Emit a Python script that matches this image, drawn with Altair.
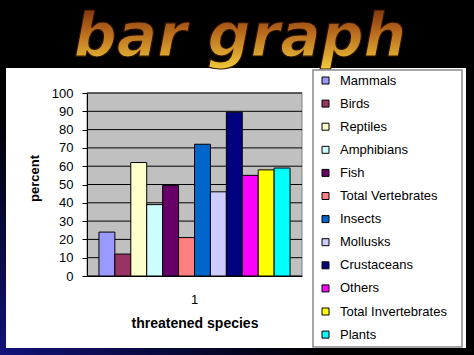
import altair as alt
import pandas as pd

species = ["Mammals", "Birds", "Reptiles", "Amphibians", "Fish", "Total Vertebrates",
           "Insects", "Mollusks", "Crustaceans", "Others", "Total Invertebrates", "Plants"]
values = [24, 12, 62, 39, 49.5, 21, 72, 46, 89.5, 55, 58, 59]
colors = ["#9999FF", "#993366", "#FFFFCC", "#CCFFFF", "#660066", "#FF8080",
          "#0066CC", "#CCCCFF", "#000080", "#FF00FF", "#FFFF00", "#00FFFF"]
group_label = ["1"] * len(species)
y_ticks = list(range(0, 101, 10))

FONT = "Liberation Sans"
W, H = 215, 183

df = pd.DataFrame({"group": group_label, "species": species, "value": values})
one = pd.DataFrame({"a": [0]})

y_axis = alt.Axis(values=y_ticks, grid=False, title="percent", zindex=2,
                  labelOverlap=False, tickCount=11,
                  domainColor="black", tickColor="black", tickSize=5,
                  labelFont=FONT, labelFontSize=13, labelColor="black",
                  labelPadding=9,
                  titleFont=FONT, titleFontSize=13, titleFontWeight="bold",
                  titleColor="black", titleAngle=270, titleX=-53, titleY=85,
                  titleAlign="center", titleBaseline="middle")
y_scale = alt.Scale(domain=[0, 100], nice=False)

bg = alt.Chart(one).mark_rect(
    fill=alt.Gradient(gradient="linear",
                      stops=[alt.GradientStop(color="#12127a", offset=0),
                             alt.GradientStop(color="#000000", offset=0.35),
                             alt.GradientStop(color="#000000", offset=1)],
                      x1=0, y1=1, x2=1, y2=0)
).encode(x=alt.value(-87), x2=alt.value(387), y=alt.value(-93), y2=alt.value(262))

white = alt.Chart(one).mark_rect(fill="white").encode(
    x=alt.value(-81), x2=alt.value(379), y=alt.value(-25), y2=alt.value(255))

title = alt.Chart(one).mark_text(
    text="bar graph", font="DejaVu Sans", fontSize=60, fontWeight="bold",
    fontStyle="italic", align="center", baseline="alphabetic",
    fill=alt.Gradient(gradient="linear",
                      stops=[alt.GradientStop(color="#6b2208", offset=0),
                             alt.GradientStop(color="#b8681c", offset=0.45),
                             alt.GradientStop(color="#f2cc3a", offset=1)],
                      x1=0, y1=0, x2=0, y2=1),
    stroke="#2a1200", strokeWidth=1.2
).encode(x=alt.value(153), y=alt.value(-37))

legend_box = alt.Chart(one).mark_rect(fill="white", stroke="#8a8a8a", strokeWidth=1.5).encode(
    x=alt.value(226), x2=alt.value(375), y=alt.value(-23), y2=alt.value(254))

plot_bg = alt.Chart(one).mark_rect(fill="#C0C0C0", stroke="#808080", strokeWidth=1).encode(
    x=alt.value(0), x2=alt.value(W), y=alt.value(0), y2=alt.value(H))

grid = alt.Chart(pd.DataFrame({"value": y_ticks})).mark_rule(color="#000000", strokeWidth=1).encode(
    y=alt.Y("value:Q", scale=y_scale, axis=y_axis))

bars = alt.Chart(df).mark_bar(stroke="black", strokeWidth=1).encode(
    x=alt.X("group:N",
            scale=alt.Scale(paddingInner=0, paddingOuter=0.0625),
            axis=alt.Axis(title="threatened species", labelAngle=0, ticks=False, zindex=2,
                          domainColor="black", labelFont=FONT, labelFontSize=13,
                          labelColor="black", labelPadding=17,
                          titleFont=FONT, titleFontSize=14, titleFontWeight="bold",
                          titleColor="black", titleY=51, titleBaseline="alphabetic")),
    xOffset=alt.XOffset("species:N", sort=species,
                        scale=alt.Scale(paddingInner=0, paddingOuter=0)),
    y=alt.Y("value:Q", scale=y_scale, axis=y_axis),
    color=alt.Color("species:N", sort=species,
                    scale=alt.Scale(domain=species, range=colors),
                    legend=alt.Legend(title=None, orient="none", legendX=232, legendY=-19,
                                      symbolType="square", symbolSize=49,
                                      symbolStrokeColor="black", symbolStrokeWidth=1,
                                      labelFont=FONT, labelFontSize=13, labelColor="black",
                                      labelOffset=8, rowPadding=9.1, padding=0,
                                      labelLimit=200))
)

chart = alt.layer(bg, white, title, legend_box, plot_bg, grid, bars).properties(
    width=W, height=H,
    autosize=alt.AutoSizeParams(type="none"),
    padding={"left": 87, "top": 93, "right": 172, "bottom": 79},
    background="#000000"
).configure_view(stroke=None)

chart.save("out.html", embed_options={"renderer": "svg", "actions": False})
